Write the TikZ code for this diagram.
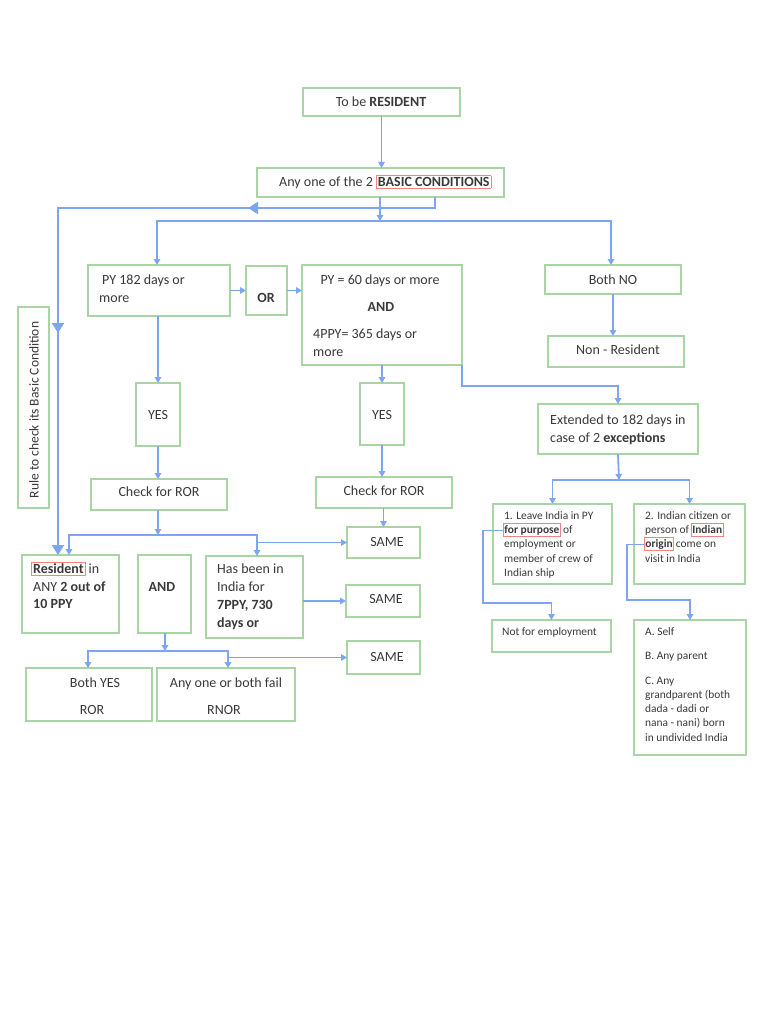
\documentclass[tikz,border=0pt]{standalone}
\usepackage{fontspec}
\setmainfont{Carlito}
\usetikzlibrary{arrows.meta,decorations.markings}
\definecolor{bgreen}{HTML}{A8D5A3}
\definecolor{ablue}{HTML}{7EA6F0}
\definecolor{hred}{HTML}{F08484}
\definecolor{tgray}{HTML}{3A3A3A}
\newcommand{\hlbox}[1]{{\setlength{\fboxsep}{1pt}\setlength{\fboxrule}{0.9pt}\fcolorbox{hred}{white}{\textbf{#1}}}}
\begin{document}
\begin{tikzpicture}[x=1pt,y=-1pt,
  box/.style={draw=bgreen, line width=2.8pt, anchor=north west, inner sep=0pt, outer sep=0pt},
  T/.style={inner sep=0pt, font=\fontsize{14}{17}\selectfont, text=tgray},
  Tl/.style={T, anchor=base west},
  Tc/.style={T, anchor=base},
  S/.style={inner sep=0pt, anchor=base west, font=\fontsize{11.4}{14}\selectfont, text=tgray},
  hl/.style={draw=hred, line width=0.9pt, inner sep=1pt, anchor=base west, text height=8.6pt, text depth=2.4pt, font=\fontsize{11.4}{14}\selectfont\bfseries, text=tgray},
  arr/.style={draw=ablue, line width=1.8pt, -{Triangle[length=6pt,width=6.5pt]}},
  bigtip/.style={-{Triangle[length=10pt,width=12pt]}},
]
\fill[white] (0,0) rectangle (768,1024);
\useasboundingbox (0,0) rectangle (768,1024);

% ---------- boxes ----------
\node[box, minimum width=157, minimum height=28] (top) at (303,88) {};
\node[box, minimum width=247, minimum height=29] (bc) at (257,168) {};
\node[box, minimum width=142, minimum height=51] (py182) at (88,265) {};
\node[box, minimum width=41, minimum height=49] (orb) at (246,266) {};
\node[box, minimum width=160, minimum height=100] (py60) at (302,265) {};
\node[box, minimum width=136, minimum height=29] (bothno) at (545,265) {};
\node[box, minimum width=136, minimum height=31] (nonres) at (548,336) {};
\node[box, minimum width=31, minimum height=201] (rule) at (18,307) {};
\node[box, minimum width=44, minimum height=63] (yes1) at (136,383) {};
\node[box, minimum width=44, minimum height=62] (yes2) at (360,383) {};
\node[box, minimum width=136, minimum height=31] (chk1) at (91,479) {};
\node[box, minimum width=136, minimum height=31] (chk2) at (316,477) {};
\node[box, minimum width=73, minimum height=31] (same1) at (347,527) {};
\node[box, minimum width=74, minimum height=32] (same2) at (346,585) {};
\node[box, minimum width=73, minimum height=33] (same3) at (347,641) {};
\node[box, minimum width=97, minimum height=78] (res) at (22,555) {};
\node[box, minimum width=53, minimum height=78] (andb) at (138,555) {};
\node[box, minimum width=97, minimum height=82] (has) at (206,556) {};
\node[box, minimum width=126, minimum height=53] (bothyes) at (26,668) {};
\node[box, minimum width=138, minimum height=53] (anyone) at (157,668) {};
\node[box, minimum width=160, minimum height=50] (ext) at (538,404) {};
\node[box, minimum width=119, minimum height=80] (exc1) at (493,504) {};
\node[box, minimum width=111, minimum height=80] (exc2) at (634,504) {};
\node[box, minimum width=119, minimum height=32] (nfe) at (492,620) {};
\node[box, minimum width=112, minimum height=135] (abc) at (634,620) {};

% ---------- texts ----------
\node[Tc] (t1) at (381,106.5) {To be \textbf{RESIDENT}};
\node[Tl] (t2) at (279,186.5) {Any one of the 2 \hlbox{BASIC CONDITIONS}};
\node[Tl] (t3a) at (102,284.5) {PY 182 days or};
\node[Tl] (t3b) at (99,302.5) {more};
\node[Tc] (t4) at (266,302.5) {\textbf{OR}};
\node[Tc] (t5a) at (380,284.5) {PY = 60 days or more};
\node[Tc] (t5b) at (381,311.5) {\textbf{AND}};
\node[Tl] (t5c) at (313,338.5) {4PPY= 365 days or};
\node[Tl] (t5d) at (313,356.5) {more};
\node[Tc] (t6) at (613,284.5) {Both NO};
\node[Tc] (t7) at (618,354.5) {Non - Resident};
\node[T, rotate=90, font=\fontsize{13.5}{16}\selectfont] (t8) at (34,410) {Rule to check its Basic Condition};
\node[Tc] (t9) at (158,419.5) {YES};
\node[Tc] (t10) at (382,419.5) {YES};
\node[Tc] (t11) at (159,496.5) {Check for ROR};
\node[Tc] (t12) at (384,495.5) {Check for ROR};
\node[Tc] (t13) at (387,546.5) {SAME};
\node[Tc] (t14) at (386,603.5) {SAME};
\node[Tc] (t15) at (387,661.5) {SAME};
\node[Tl] (t16a) at (31,573.5) {\hlbox{Resident} in};
\node[Tl] (t16b) at (33,591.5) {ANY \textbf{2 out of}};
\node[Tl] (t16c) at (33,608.5) {\textbf{10 PPY}};
\node[Tc] (t17) at (162,591.5) {\textbf{AND}};
\node[Tl] (t18a) at (217,573.5) {Has been in};
\node[Tl] (t18b) at (217,591.5) {India for};
\node[Tl] (t18c) at (217,609.5) {\textbf{7PPY, 730}};
\node[Tl] (t18d) at (217,627.5) {\textbf{days or}};
\node[Tc] (t19a) at (95,687.5) {Both YES};
\node[Tc] (t19b) at (92,714.5) {ROR};
\node[Tc] (t20a) at (226,687.5) {Any one or both fail};
\node[Tc] (t20b) at (224,714.5) {RNOR};
\node[Tl] (t21a) at (550,424.5) {Extended to 182 days in};
\node[Tl] (t21b) at (550,442) {case of 2 \textbf{exceptions}};

\node[S] (e1a) at (504,519.5) {1. Leave India in PY};
\node[hl] (fp) at (503,533.5) {for purpose};
\node[S] (e1b) at ([xshift=2pt]fp.base east) {of};
\node[S] (e1c) at (504,547.5) {employment or};
\node[S] (e1d) at (504,562.5) {member of crew of};
\node[S] (e1e) at (504,576.5) {Indian ship};

\node[S] (e2a) at (645,519.5) {2. Indian citizen or};
\node[S] (e2b) at (645,533.5) {person of};
\node[hl] (ind) at ([xshift=1.5pt]e2b.base east) {Indian};
\node[hl] (og) at (644,547.5) {origin};
\node[S] (e2c) at ([xshift=1.5pt]og.base east) {come on};
\node[S] (e2d) at (645,562.5) {visit in India};

\node[S] (nfet) at (502,635.5) {Not for employment};

\node[S] (a1) at (645,635.5) {A. Self};
\node[S] (a2) at (645,659.5) {B. Any parent};
\node[S] (a3) at (645,684.5) {C. Any};
\node[S] (a4) at (645,698.5) {grandparent (both};
\node[S] (a5) at (645,712.5) {dada - dadi or};
\node[S] (a6) at (645,726.5) {nana - nani) born};
\node[S] (a7) at (645,741.5) {in undivided India};

% ---------- connectors ----------
\coordinate (j1) at (380,221);
\coordinate (l1) at (435,208);
\coordinate (l2) at (58,208);
\coordinate (j2) at (158,535);
\coordinate (j3) at (165,651);
\coordinate (j4) at (619,480);
\coordinate (c1) at (483,603);
\coordinate (c2) at (627,600);

\draw[arr] (top.south) -- (top.south |- bc.north);
\draw[arr] (bc.south -| j1) -- (j1);
\draw[arr] (j1) -| ([xshift=-2pt]py182.north);
\draw[arr] (j1) -| ([xshift=-2pt]bothno.north);

\draw[arr, bigtip, postaction={decorate},
  decoration={markings,
    mark=at position 198pt with {\arrow{Triangle[length=10pt,width=12pt]}},
    mark=at position 513pt with {\arrow{Triangle[length=10pt,width=12pt]}}}]
  (bc.south -| l1) -- (l1) -- (l2) -- (res.north -| l2);

\draw[arr] (bothno.south) -- (bothno.south |- nonres.north);
\draw[arr] (py182.east) -- (orb.west);
\draw[arr] (orb.east) -- (orb.east -| py60.west);
\draw[arr] (yes1.north |- py182.south) -- (yes1.north);
\draw[arr] (py60.south) -- (py60.south |- yes2.north);
\draw[arr] (py60.south east) -- ++(0,21) -| (ext.north);
\draw[arr] (yes1.south) -- (yes1.south |- chk1.north);
\draw[arr] (yes2.south) -- (yes2.south |- chk2.north);
\draw[arr] (chk2.south -| same1.north) -- (same1.north);

\draw[arr] (j2 |- chk1.south) -- (j2);
\draw[arr] (j2) -| ([xshift=-1.5pt]res.north);
\draw[arr] (j2) -| ([xshift=2.5pt]has.north);
\draw[arr] ([xshift=2.5pt]has.north |- same1.west) -- (same1.west);
\draw[arr] (has.east |- same2.west) -- (same2.west);

\draw[arr] (j3 |- andb.south) -- (j3);
\draw[arr] (j3) -| ([xshift=-1pt]bothyes.north);
\draw[arr] (j3) -| ([xshift=2pt]anyone.north);
\draw[arr] ([xshift=2pt]anyone.north |- same3.west) -- (same3.west);

\draw[arr] (ext.south) -- (j4);
\draw[arr] (j4) -| (exc1.north);
\draw[arr] (j4) -| (exc2.north);

\draw[arr] (fp.west) -| (c1) -| (nfe.north);
\draw[arr] (og.west) -| (c2) -| (abc.north);
\end{tikzpicture}
\end{document}
